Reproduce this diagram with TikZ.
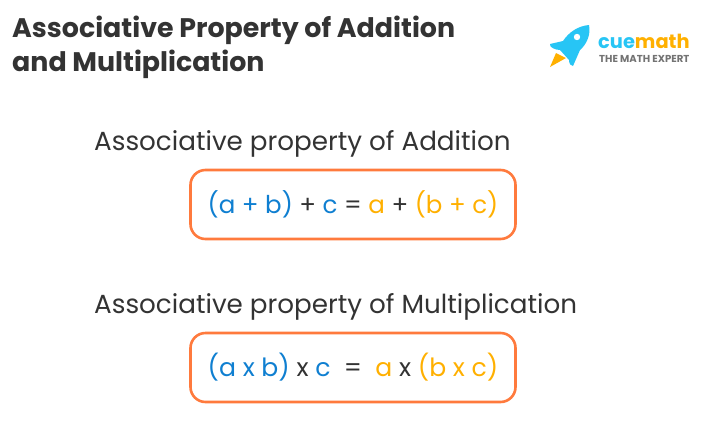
\documentclass[tikz,border=0pt]{standalone}
\usepackage{fontspec}
\setmainfont{Poppins}
\definecolor{ink}{HTML}{333333}
\definecolor{bl}{HTML}{0F7FD1}
\definecolor{yl}{HTML}{FFB000}
\definecolor{org}{HTML}{FF7A3D}
\definecolor{cy}{HTML}{27C5F5}
\newcommand{\B}[1]{\textcolor{bl}{#1}}
\newcommand{\Y}[1]{\textcolor{yl}{#1}}
\begin{document}
\begin{tikzpicture}[x=1pt,y=-1pt,
 ttl/.style={anchor=west,inner sep=0,font=\fontsize{26.85}{30}\selectfont\bfseries,text=ink},
 sub/.style={anchor=west,inner sep=0,font=\fontsize{26.2}{30}\selectfont,text=ink},
 eqn/.style={draw=org,line width=2.6pt,rounded corners=15pt,minimum width=325pt,minimum height=69pt,inner sep=0,text=ink}]
\useasboundingbox (0,0) rectangle (710,421);
\fill[white] (0,0) rectangle (710,421);
\node[ttl] (t1) at (12,30) {Associative Property of Addition};
\node[ttl] (t2) at (12,64) {and Multiplication};
\node[sub] (s1) at (94,144) {Associative property of Addition};
\node[sub] (s2) at (94,307) {Associative property of Multiplication};
\node[eqn,font=\fontsize{24.5}{30}\selectfont] (e1) at (353,204.5) {\B{(a + b)} + \B{c} = \Y{a} + \Y{(b + c)}};
\node[eqn,font=\fontsize{25.1}{30}\selectfont] (e2) at (353,367.5) {\B{(a x b)} x \B{c} \ = \ \Y{a} x \Y{(b x c)}};
% rocket
\fill[cy] (589,25) .. controls (578,26) and (569,32) .. (563,41) -- (550,44) .. controls (549,47) and (555,50) .. (560,50) -- (569,60) .. controls (569,64) and (571,66) .. (573,66) -- (580,50) .. controls (587,44) and (591,34) .. (589,25) -- cycle;
\fill[yl] (550,67) -- (556,53) -- (566,58) -- cycle;
\fill[white] (577,37) circle (3.2);
\node[anchor=west,inner sep=0,font=\fontsize{19.4}{22}\selectfont\bfseries] (l1) at (598,41) {\textcolor{cy}{cue}\textcolor{yl}{math}};
\node[anchor=west,inner sep=0,font=\fontsize{10.1}{12}\selectfont\bfseries,text=black!55] (l2) at (599,59) {THE MATH EXPERT};
\end{tikzpicture}
\end{document}
